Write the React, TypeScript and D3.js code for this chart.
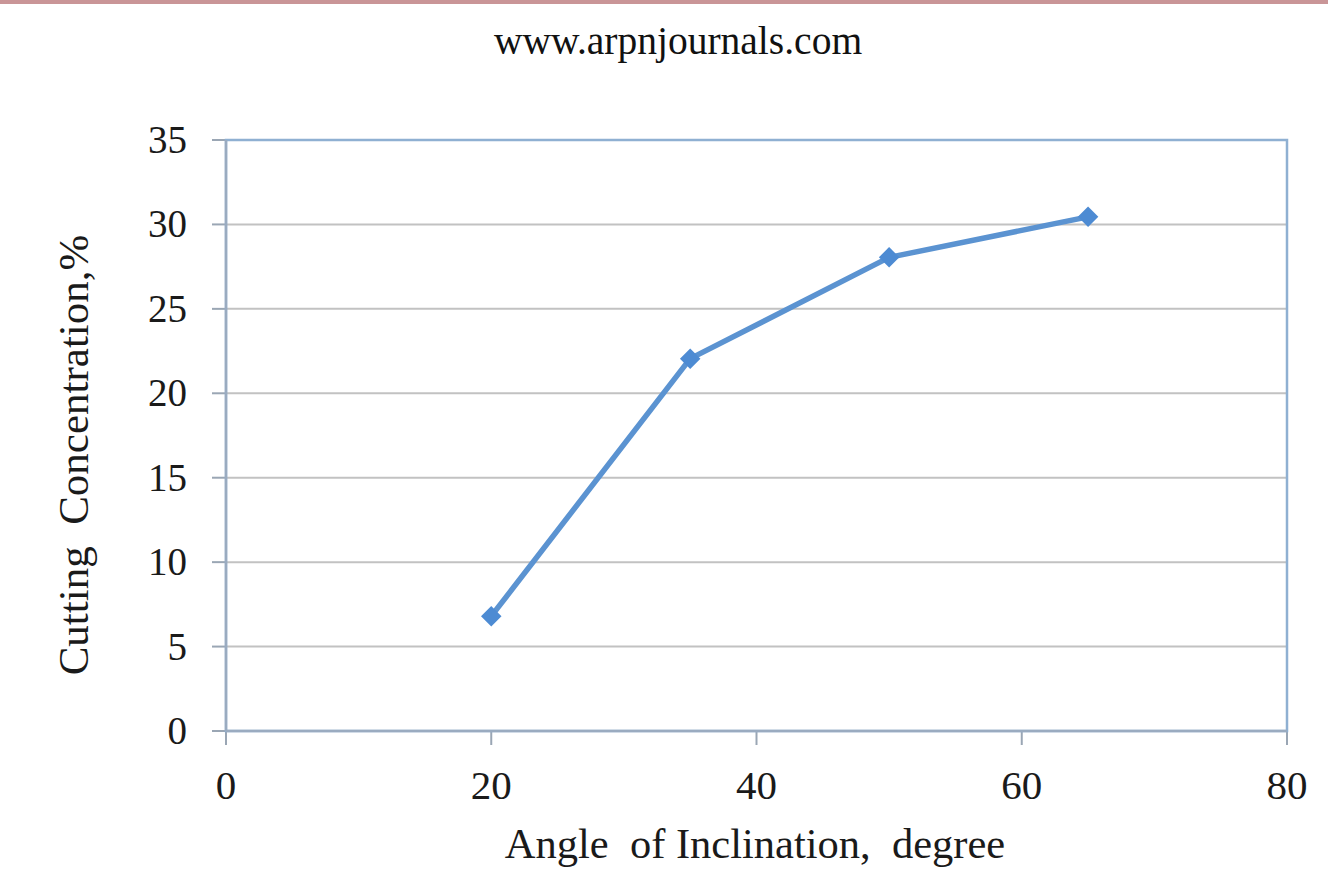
import React from "react";
import * as d3 from "d3";

const angles = [20, 35, 50, 65];
const concentration = [6.8, 22.05, 28.05, 30.45];
const yTicks = [0, 5, 10, 15, 20, 25, 30, 35];
const xTicks = [0, 20, 40, 60, 80];

const W = 1328;
const H = 873;
const M = { left: 226, right: 1287, top: 140, bottom: 731 };

export default function App() {
  const x = d3.scaleLinear().domain([0, 80]).range([M.left, M.right]);
  const y = d3.scaleLinear().domain([0, 35]).range([M.bottom, M.top]);
  const pts = angles.map((a, i) => [x(a), y(concentration[i])] as [number, number]);
  const line = d3.line()(pts) || "";
  const font = "'Liberation Serif', 'Times New Roman', serif";
  const marker = d3.symbol().type(d3.symbolSquare).size(210)() || "";
  return (
    <svg width={W} height={H} style={{ position: "absolute", left: 0, top: 0, background: "#fff" }} fontFamily={font}>
      <rect x={0} y={0} width={W} height={H} fill="#fff" />
      <rect x={0} y={0} width={W} height={4} fill="#c99597" />
      <text x={678} y={54} textAnchor="middle" fontSize={39.5} fill="#111">www.arpnjournals.com</text>
      {yTicks.map((t) => (
        <g key={"y" + t}>
          {t > 0 && t < 35 && (
            <line x1={M.left} x2={M.right} y1={y(t)} y2={y(t)} stroke="#c2c2c2" strokeWidth={2} />
          )}
          <line x1={212} x2={M.left} y1={y(t)} y2={y(t)} stroke="#9aa6b4" strokeWidth={2} />
          <text x={187} y={y(t) + 13} textAnchor="end" fontSize={39} fill="#1a1a1a">{t}</text>
        </g>
      ))}
      {xTicks.map((t) => (
        <g key={"x" + t}>
          <line x1={x(t)} x2={x(t)} y1={M.bottom} y2={745} stroke="#9aa6b4" strokeWidth={2} />
          <text x={x(t)} y={799} textAnchor="middle" fontSize={41} fill="#1a1a1a">{t}</text>
        </g>
      ))}
      <rect x={M.left} y={M.top} width={M.right - M.left} height={M.bottom - M.top} fill="none" stroke="#8fb0d2" strokeWidth={2.5} />
      <line x1={M.left} x2={M.left} y1={M.top} y2={M.bottom} stroke="#9aabc0" strokeWidth={2.5} />
      <line x1={M.left} x2={M.right} y1={M.bottom} y2={M.bottom} stroke="#9aabc0" strokeWidth={2.5} />
      <path d={line} fill="none" stroke="#5b93d1" strokeWidth={5.5} strokeLinejoin="round" />
      {pts.map((p, i) => (
        <path key={i} d={marker} transform={`translate(${p[0]},${p[1]}) rotate(45)`} fill="#4d8bd3" />
      ))}
      <text x={755} y={858} textAnchor="middle" fontSize={42.5} fill="#1a1a1a" style={{ whiteSpace: "pre" }}>Angle  of Inclination,  degree</text>
      <text transform={`translate(88,455) rotate(-90)`} textAnchor="middle" fontSize={43} fill="#1a1a1a" style={{ whiteSpace: "pre" }}>Cutting  Concentration,%</text>
    </svg>
  );
}
